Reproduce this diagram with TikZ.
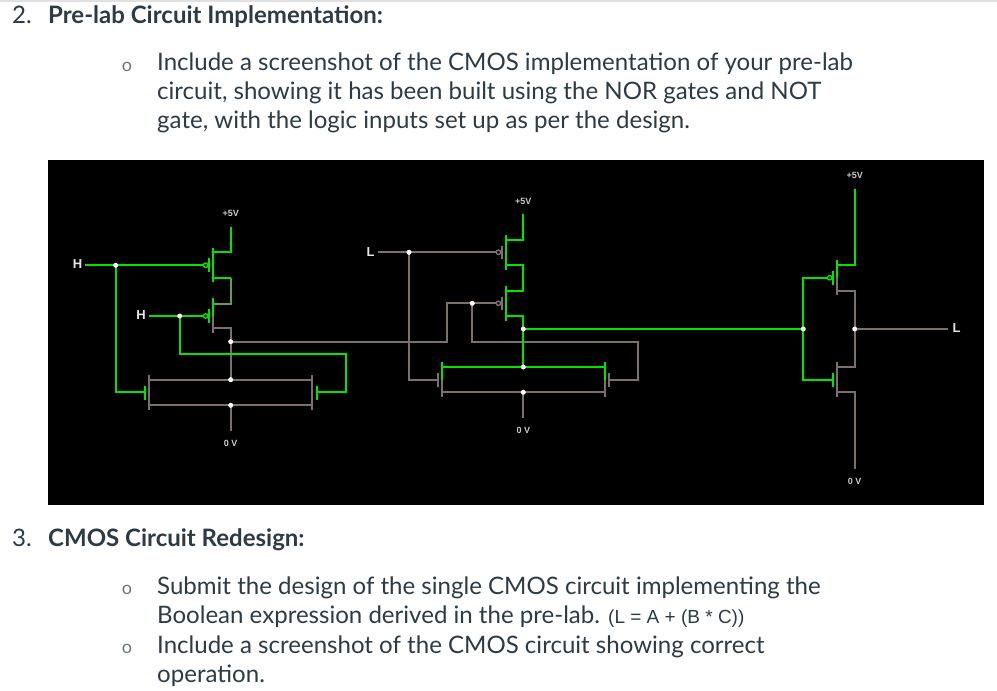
\documentclass[tikz,border=0pt]{standalone}
\usepackage{fontspec}
\setmainfont{Lato}
\newfontfamily\arialf{Liberation Sans}
\definecolor{ink}{HTML}{2D3B45}
\definecolor{wg}{HTML}{00E400}
\definecolor{wd}{HTML}{5DA052}
\definecolor{wy}{HTML}{7D706C}
\tikzset{
 x=1pt,y=-1pt,
 body/.style={anchor=base west,inner sep=0pt,text=ink,font=\fontsize{24.05}{24}\selectfont},
 head/.style={body,font=\fontsize{24}{24}\selectfont\bfseries},
 bul/.style={anchor=base,inner sep=0pt,text=ink!70,font=\fontsize{18}{18}\selectfont},
 hi/.style={draw=wg,line width=2.3pt,line cap=butt,line join=miter},
 lo/.style={draw=wy,line width=2.3pt,line cap=butt,line join=miter},
 mid/.style={draw=wd,line width=2.3pt,line join=miter},
 dot/.style={circle,fill=white,inner sep=0pt,minimum size=5pt},
 rail/.style={text=white!80!black,font=\arialf\bfseries\fontsize{9}{9}\selectfont,inner sep=0pt},
 logic/.style={text=white!90!black,font=\arialf\bfseries\fontsize{13}{13}\selectfont,inner sep=0pt},
 bubg/.style={draw=wg,line width=1.4pt},
 buby/.style={draw=wy,line width=1.4pt},
}
\begin{document}
\begin{tikzpicture}
\useasboundingbox (0,0) rectangle (997,691);
\fill[white] (0,0) rectangle (997,691);
\fill[black!12] (0,0) rectangle (997,1.5);
% text
\node[body] (n2) at (12,23) {2.};
\node[head] (t2) at (48,23) {Pre-lab Circuit Implementation:};
\node[bul] (b1) at (127,71) {o};
\node[body] (l1) at (157,70) {Include a screenshot of the CMOS implementation of your pre-lab};
\node[body] (l2) at (157,99) {circuit, showing it has been built using the NOR gates and NOT};
\node[body] (l3) at (157,128) {gate, with the logic inputs set up as per the design.};
\node[body] (n3) at (12,546.5) {3.};
\node[head] (t3) at (48,546.5) {CMOS Circuit Redesign:};
\node[bul] (b2) at (127,594.5) {o};
\node[body] (l4) at (157,594) {Submit the design of the single CMOS circuit implementing the};
\node[body] (l5) at (157,623) {Boolean expression derived in the pre-lab. {\arialf\fontsize{19}{19}\selectfont(L = A + (B * C))}};
\node[bul] (b3) at (127,653.5) {o};
\node[body] (l6) at (157,653) {Include a screenshot of the CMOS circuit showing correct};
\node[body] (l7) at (157,682) {operation.};
% screen
\fill[black] (48,160) rectangle (984,505);
% ---- labels
\node[logic] (h1) at (77.5,264) {H};
\node[logic] (h2) at (141,315.5) {H};
\node[logic] (l8) at (370.5,252) {L};
\node[logic] (l9) at (956.5,328) {L};
\node[rail] (v1) at (230.7,213.7) {+5V};
\node[rail] (v2) at (523.3,201) {+5V};
\node[rail] (v3) at (854.7,175.3) {+5V};
\node[rail] (g1) at (230.7,443.3) {0 V};
\node[rail] (g2) at (523.3,430) {0 V};
\node[rail] (g3) at (854.7,481.3) {0 V};
% ---- junctions
\coordinate (ja) at (115.7,265.3);
\coordinate (jb) at (179.7,316);
\coordinate (jc) at (230.7,341.7);
\coordinate (jd) at (230.7,379.7);
\coordinate (je) at (230.7,405.3);
\coordinate (jf) at (409,252.3);
\coordinate (jg) at (472.3,303.3);
\coordinate (jh) at (523.3,329);
\coordinate (ji) at (523.3,367);
\coordinate (jj) at (523.3,392.3);
\coordinate (jk) at (803.3,329);
\coordinate (jl) at (854.7,329);
% ---- first NOR
\path[lo] (jc) -- (447.3,341.7) -- (447.3,303.3) -- (jg);
\path[lo] (jc) -- (jd);
\path[hi] (h1.east)+(3,1.3) -- (ja) -- (203.5,265.3);
\path[hi] (ja) -- (115.7,392.3) -- (145,392.3);
\path[hi] (h2.east)+(3,.5) -- (jb) -- (203.5,316);
\path[hi] (jb) -- (179.7,354) -- (345.7,354) -- (345.7,392.3) -- (316.7,392.3);
\path[hi] (208.7,258) -- (208.7,272);
\path[hi] (208.7,309.3) -- (208.7,322.7);
\path[hi] (145,385.7) -- (145,400);
\path[hi] (316.7,385.7) -- (316.7,400);
\path[bubg] (205.6,265.3) circle (2.2pt);
\path[bubg] (205.6,316) circle (2.2pt);
\path[hi] (213,247.7) -- (213,282);
\path[hi] (230.7,226.7) -- (230.7,252.3) -- (213,252.3);
\path[hi] (213,277.7) -- (230.7,277.7);
\path[mid] (230.7,277.7) -- (230.7,303.7) -- (213,303.7);
\path[hi] (213,298.3) -- (213,315.5);
\path[lo] (213,315.5) -- (213,333.3);
\path[lo] (213,328.3) -- (230.7,328.3) -- (jc);
\path[lo] (149.3,375) -- (149.3,410);
\path[lo] (312,375) -- (312,410);
\path[lo] (149.3,379.7) -- (312,379.7);
\path[lo] (149.3,405.3) -- (312,405.3);
\path[lo] (je) -- (230.7,430.7);
% ---- second NOR
\path[lo] (l8.east)+(3,.3) -- (jf) -- (496,252.3);
\path[lo] (jf) -- (409,380) -- (437.7,380);
\path[lo] (jg) -- (496,303.3);
\path[lo] (jg) -- (472.3,341.7) -- (638.3,341.7) -- (638.3,380) -- (609.3,380);
\path[lo] (501.7,246) -- (501.7,259.3);
\path[lo] (501.7,296.7) -- (501.7,310);
\path[lo] (437.7,373.3) -- (437.7,386.7);
\path[lo] (609.3,373.3) -- (609.3,386.7);
\path[buby] (498.4,252.3) circle (2.2pt);
\path[buby] (498.4,303.3) circle (2.2pt);
\path[hi] (506,235) -- (506,270);
\path[hi] (506,286) -- (506,320.7);
\path[hi] (523.3,214) -- (523.3,239.7) -- (506,239.7);
\path[hi] (506,265.3) -- (523.3,265.3) -- (523.3,290.7) -- (506,290.7);
\path[hi] (506,316) -- (523.3,316) -- (jh) -- (ji);
\path[hi] (jh) -- (jk);
\path[hi] (442,362.3) -- (442,380);
\path[lo] (442,380) -- (442,397.3);
\path[hi] (605,362.3) -- (605,380);
\path[lo] (605,380) -- (605,397.3);
\path[hi] (442,367) -- (605,367);
\path[lo] (442,392.3) -- (605,392.3);
\path[lo] (jj) -- (523.3,418);
% ---- NOT
\path[hi] (jk) -- (803.3,277.7) -- (827.5,277.7);
\path[hi] (jk) -- (803.3,379.7) -- (832.7,379.7);
\path[hi] (832.7,271) -- (832.7,285);
\path[hi] (832.7,372.7) -- (832.7,387.3);
\path[bubg] (829.6,277.7) circle (2.2pt);
\path[hi] (837,260) -- (837,278);
\path[lo] (837,278) -- (837,295.3);
\path[hi] (854.7,189) -- (854.7,265.3) -- (837,265.3);
\path[lo] (837,290.7) -- (854.7,290.7) -- (854.7,367.3) -- (837,367.3);
\path[lo] (837,362.3) -- (837,397.3);
\path[lo] (837,392.3) -- (854.7,392.3) -- (854.7,469);
\path[lo] (jl) -- (947.7,329);
% ---- dots
\foreach \j in {ja,jb,jc,jd,je,jf,jg,jh,ji,jj,jk,jl}{\node[dot] at (\j) {};}
\end{tikzpicture}
\end{document}
